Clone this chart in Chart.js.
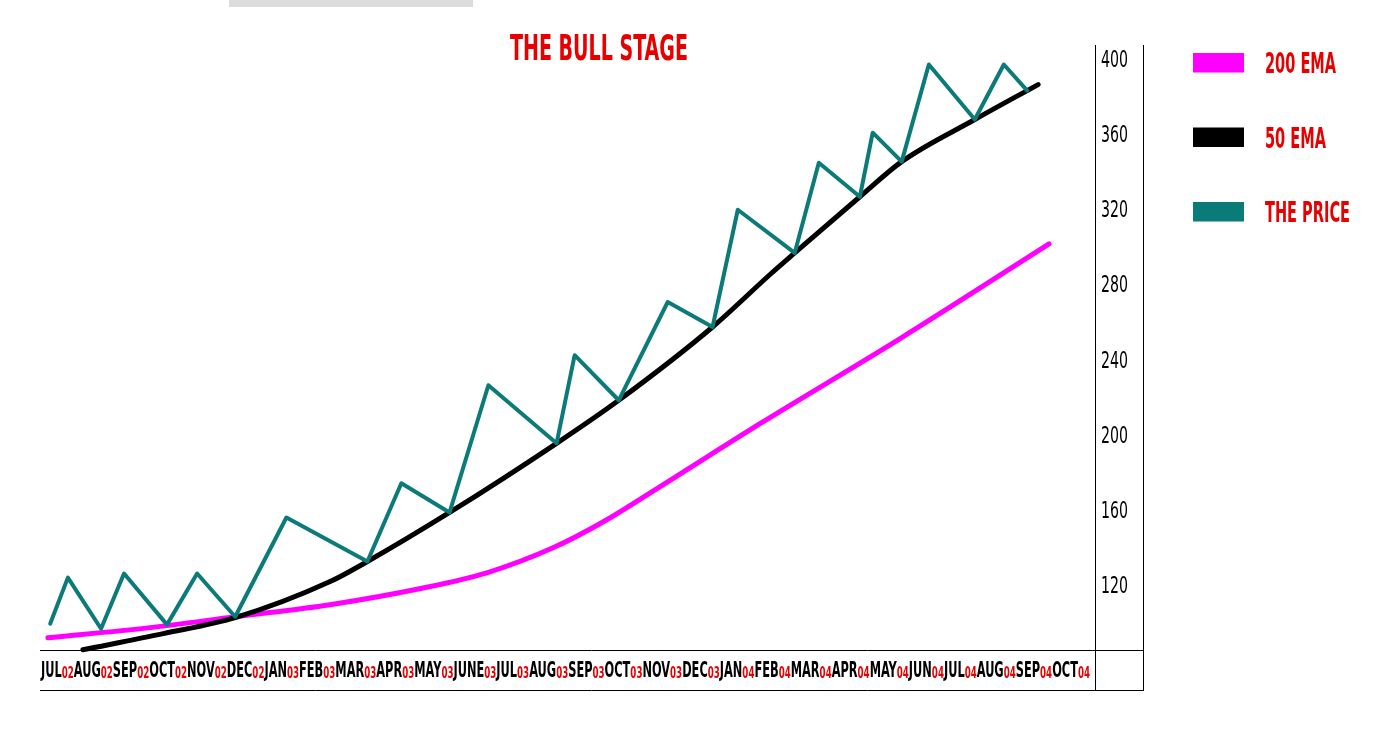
<!DOCTYPE html>
<html><head><meta charset="utf-8">
<script src="https://cdn.jsdelivr.net/npm/chart.js@4.4.1/dist/chart.umd.min.js"></script>
<style>html,body{margin:0;padding:0;background:#fff;}canvas{display:block;}</style>
</head><body>
<canvas id="c" width="1378" height="731" style="width:1378px;height:731px"></canvas>
<script>
// ---- data ----
const titleText = 'THE BULL STAGE';
const monthLabels = ['JUL','AUG','SEP','OCT','NOV','DEC','JAN','FEB','MAR','APR','MAY','JUNE','JUL','AUG','SEP','OCT','NOV','DEC','JAN','FEB','MAR','APR','MAY','JUN','JUL','AUG','SEP','OCT'];
const yearLabels = ['02','02','02','02','02','02','03','03','03','03','03','03','03','03','03','03','03','03','04','04','04','04','04','04','04','04','04','04'];
const yTickValues = [120,160,200,240,280,320,360,400];

// x = month index (0 = start of JUL 02)
const priceX = [0.27,0.74,1.62,2.23,3.37,4.17,5.18,6.54,8.69,9.59,10.87,11.90,13.71,14.19,15.36,16.66,17.85,18.52,20.03,20.67,21.76,22.10,22.87,23.59,24.81,25.58,26.20];
const priceY = [99.2,123.7,96.5,125.9,98.7,125.9,102.9,155.7,132.3,173.9,158.4,226.1,195.2,242.1,218.1,270.4,257.1,319.5,296.5,344.5,326.4,360.5,345.1,396.8,367.5,396.8,382.9];

const ema50X = [1.14,3.27,5.18,7.70,8.69,10.87,13.71,15.36,17.85,19.39,20.03,21.76,22.87,24.81,26.49];
const ema50Y = [85.3,93.9,102.4,121.6,132.3,158.4,195.2,218.1,257.1,285.3,296.5,326.4,345.1,367.5,386.1];

const ema200X = [0.21,2.92,5.18,7.70,10.10,11.88,13.63,15.01,16.47,19.13,22.85,26.78];
const ema200Y = [91.7,97.1,102.9,109.3,117.9,126.4,139.7,154.1,172.3,205.9,251.2,301.3];

const seriesNames = ['THE PRICE','50 EMA','200 EMA'];
const seriesColors = ['#0b7b79','#000000','#ff00ff'];
const legendOrder = [2,1,0];

const pts = (xs, ys) => xs.map((x, i) => ({x: x, y: ys[i]}));

const COND = '"Liberation Sans Narrow", "DejaVu Sans Condensed", "Liberation Sans", "DejaVu Sans", sans-serif';
const RED = '#e60000';

function drawScaled(ctx, text, x, y, sx, align) {
  ctx.save();
  ctx.translate(x, y);
  ctx.scale(sx, 1);
  ctx.textAlign = align || 'left';
  ctx.textBaseline = 'alphabetic';
  ctx.fillText(text, 0, 0);
  ctx.restore();
}

const decorPlugin = {
  id: 'decor',
  beforeDraw(chart) {
    const ctx = chart.ctx;
    ctx.save();
    ctx.fillStyle = '#ffffff';
    ctx.fillRect(0, 0, chart.width, chart.height);
    ctx.fillStyle = '#dcdcdc';
    ctx.fillRect(229, 0, 244, 7);
    ctx.restore();
  },
  afterDraw(chart) {
    const ctx = chart.ctx;
    const ca = chart.chartArea;
    const yS = chart.scales.y;
    ctx.save();
    // frame lines
    ctx.strokeStyle = '#000';
    ctx.lineWidth = 1;
    ctx.beginPath();
    ctx.moveTo(ca.left, ca.bottom + 0.5); ctx.lineTo(1143, ca.bottom + 0.5);
    ctx.moveTo(ca.left, 690.5); ctx.lineTo(1143, 690.5);
    ctx.moveTo(ca.right + 0.5, 45); ctx.lineTo(ca.right + 0.5, 691);
    ctx.moveTo(1143.5, 45); ctx.lineTo(1143.5, 691);
    ctx.stroke();

    // title
    ctx.fillStyle = RED;
    ctx.font = 'bold 36px ' + COND;
    let f = 178 / ctx.measureText(titleText).width;
    drawScaled(ctx, titleText, 599, 60, f, 'center');

    // y tick labels
    ctx.fillStyle = '#000';
    ctx.font = '23px ' + COND;
    f = 27 / ctx.measureText('400').width;
    yTickValues.forEach(v => {
      drawScaled(ctx, String(v), ca.right + 6, yS.getPixelForValue(v) + 8.5, f, 'left');
    });

    // x labels (month black + year red, run together)
    const mFont = 'bold 21px ' + COND, yFont = 'bold 16px ' + COND;
    let total = 0;
    monthLabels.forEach((m, i) => {
      ctx.font = mFont; total += ctx.measureText(m).width;
      ctx.font = yFont; total += ctx.measureText(yearLabels[i]).width;
    });
    f = (ca.right - 5 - (ca.left + 1)) / total;
    let x = ca.left + 1;
    monthLabels.forEach((m, i) => {
      ctx.font = mFont; ctx.fillStyle = '#000';
      drawScaled(ctx, m, x, 677, f, 'left');
      x += ctx.measureText(m).width * f;
      ctx.font = yFont; ctx.fillStyle = RED;
      drawScaled(ctx, yearLabels[i], x, 678, f, 'left');
      x += ctx.measureText(yearLabels[i]).width * f;
    });

    // legend
    ctx.font = 'bold 28px ' + COND;
    f = 85 / ctx.measureText('THE PRICE').width;
    legendOrder.forEach((di, k) => {
      const ds = chart.data.datasets[di];
      const top = 53 + k * 74.5;
      ctx.fillStyle = ds.borderColor;
      ctx.fillRect(1193, top, 51, 19.5);
      ctx.fillStyle = RED;
      drawScaled(ctx, ds.label, 1265, top + 20, f, 'left');
    });
    ctx.restore();
  }
};

new Chart(document.getElementById('c'), {
  type: 'line',
  data: {
    datasets: [
      { label: seriesNames[0], data: pts(priceX, priceY), borderColor: seriesColors[0], borderWidth: 4,
        tension: 0, pointRadius: 0, borderJoinStyle: 'round', borderCapStyle: 'round', clip: false },
      { label: seriesNames[1], data: pts(ema50X, ema50Y), borderColor: seriesColors[1], borderWidth: 5,
        cubicInterpolationMode: 'monotone', pointRadius: 0, borderCapStyle: 'round', clip: false },
      { label: seriesNames[2], data: pts(ema200X, ema200Y), borderColor: seriesColors[2], borderWidth: 5,
        cubicInterpolationMode: 'monotone', pointRadius: 0, borderCapStyle: 'round', clip: false }
    ]
  },
  options: {
    responsive: false,
    animation: false,
    layout: { padding: { left: 40, right: 283, top: 47, bottom: 81 } },
    plugins: { legend: { display: false }, tooltip: { enabled: false }, title: { display: false } },
    scales: {
      x: { type: 'linear', min: 0, max: 28, display: false },
      y: { type: 'linear', min: 85.2, max: 406.1, display: false }
    }
  },
  plugins: [decorPlugin]
});
</script>
</body></html>
